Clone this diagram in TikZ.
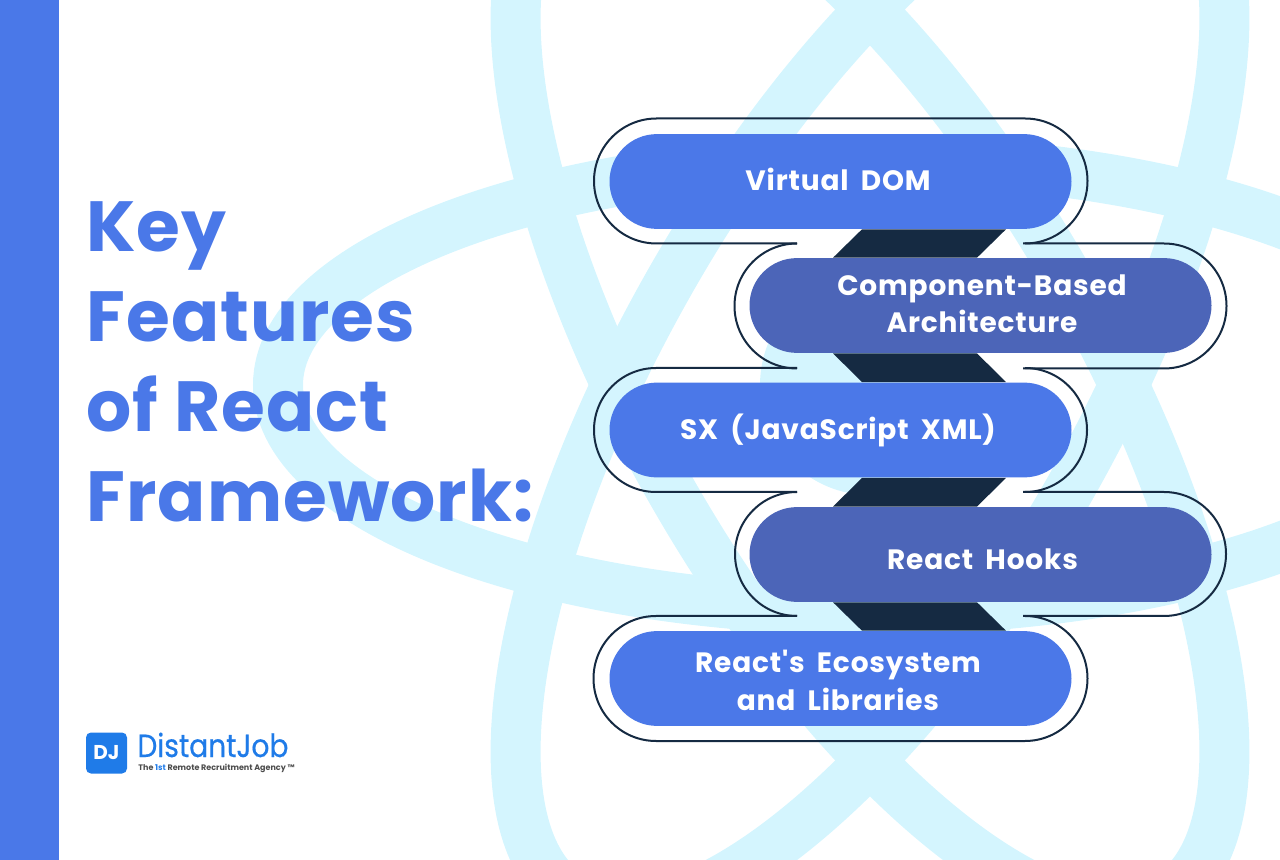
\documentclass[tikz,border=0pt]{standalone}
\usepackage{fontspec}
\usetikzlibrary{shapes.misc}
\setmainfont{Poppins}
\newfontfamily\titlefont[LetterSpace=1.5]{Poppins}
\newfontfamily\pillfont[LetterSpace=3,WordSpace=1.8]{Poppins}
\newfontfamily\brandfont[FakeStretch=0.88,FakeBold=0.4]{Poppins}
\definecolor{barblue}{HTML}{4A78E8}
\definecolor{pillblue}{HTML}{4B78E8}
\definecolor{pillindigo}{HTML}{4C65B8}
\definecolor{linkdark}{HTML}{152A42}
\definecolor{logocyan}{HTML}{D4F5FE}
\definecolor{jobblue}{HTML}{1F7BE8}
\tikzset{
  orbit/.style={draw=logocyan,line width=25pt},
  pill/.style={rounded rectangle,minimum width=231pt,minimum height=47.4pt,inner sep=0pt},
  pilltext/.style={inner sep=0pt,text=white,align=center,font=\pillfont\bfseries\fontsize{14}{18.6}\selectfont},
  edge/.style={draw=linkdark,line width=1pt},
  link/.style={fill=linkdark},
}
\begin{document}
\begin{tikzpicture}[x=0.5pt,y=0.5pt]
\useasboundingbox (0,0) rectangle (1280,-860);
% react logo behind everything
\draw[orbit] (870,-385) ellipse (592 and 225);
\draw[orbit,rotate around={60:(870,-385)}] (870,-385) ellipse (592 and 225);
\draw[orbit,rotate around={120:(870,-385)}] (870,-385) ellipse (592 and 225);
\fill[logocyan] (870,-385) circle (110);
\fill[barblue] (0,0) rectangle (59,-860);
\node[anchor=north west,inner sep=0pt,align=left,text=barblue,font=\titlefont\bfseries\fontsize{35.5}{45}\selectfont] (title) at (86,-201) {Key\\Features\\of React\\Framework:};
% pills
\node[pill,fill=pillblue] (dom) at (840.5,-181.5) {};
\node[pill,fill=pillindigo] (comp) at (980.5,-305.5) {};
\node[pill,fill=pillblue] (jsx) at (840.5,-430) {};
\node[pill,fill=pillindigo] (hooks) at (980.5,-554.5) {};
\node[pill,fill=pillblue] (eco) at (840.5,-678.5) {};
\node[pilltext] (domtext) at (838,-179.5) {Virtual DOM};
\node[pilltext] (comptext) at (982,-304) {Component-Based\\Architecture};
\node[pilltext] (jsxtext) at (838,-430) {SX (JavaScript XML)};
\node[pilltext] (hookstext) at (982.5,-559.5) {React Hooks};
\node[pilltext] (ecotext) at (838,-680.5) {React's Ecosystem\\and Libraries};
% dark bands between the pills
\fill[link] (862,0 |- dom.south) -- (1006,0 |- dom.south) -- (977,0 |- comp.north) -- (833,0 |- comp.north) -- cycle;
\fill[link] (833,0 |- comp.south) -- (977,0 |- comp.south) -- (1006,0 |- jsx.north) -- (862,0 |- jsx.north) -- cycle;
\fill[link] (862,0 |- jsx.south) -- (1006,0 |- jsx.south) -- (977,0 |- hooks.north) -- (833,0 |- hooks.north) -- cycle;
\fill[link] (833,0 |- hooks.south) -- (977,0 |- hooks.south) -- (1006,0 |- eco.north) -- (862,0 |- eco.north) -- cycle;
% outline around the pills
\draw[edge] (797,-243.5) -- (656.5,-243.5) arc (270:90:62.5) -- (1025,-118.5) arc (90:-90:62.5);
\draw[edge] (797,-243.5) arc (90:270:62.5);
\draw[edge] (1023,-243.5) -- (1164,-243.5) arc (90:-90:62.5) -- (1023,-368.5);
\draw[edge] (797,-368) -- (656,-368) arc (90:270:62) -- (797,-492);
\draw[edge] (1025,-368) arc (90:-90:62);
\draw[edge] (797,-492) arc (90:270:62);
\draw[edge] (1023,-492) -- (1164,-492) arc (90:-90:62) -- (1023,-616);
\draw[edge] (797,-616) -- (656,-616) arc (90:270:62.5) -- (1025,-741) arc (-90:90:62.5);
% company logo
\node[fill=jobblue,rounded corners=2.5pt,minimum size=20.5pt,inner sep=0pt,text=white,font=\bfseries\fontsize{10}{12}\selectfont] (badge) at (106.5,-753) {DJ};
\node[anchor=base west,inner sep=0pt,text depth=0pt,text=jobblue,font=\brandfont\fontsize{16}{18}\selectfont] (brand) at (137,-757) {DistantJob};
\node[anchor=base west,inner sep=0pt,text height=3pt,text=black!70,font=\bfseries\fontsize{4}{5}\selectfont] (motto) at (138,-770) {The \textcolor{jobblue}{1st} Remote Recruitment Agency ™};
\end{tikzpicture}
\end{document}
